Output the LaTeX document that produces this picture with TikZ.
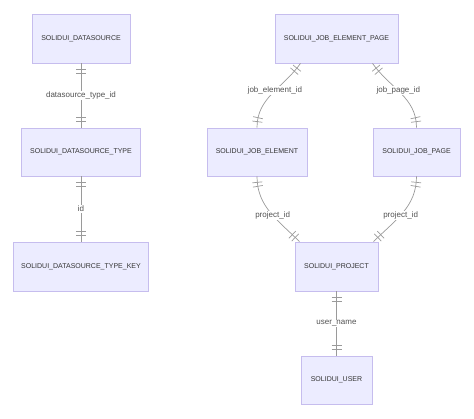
\documentclass[tikz,border=0pt]{standalone}
\usepackage{fontspec}
\setmainfont{Liberation Sans}
\usetikzlibrary{decorations.markings}
\definecolor{entfill}{HTML}{ECECFF}
\definecolor{entline}{HTML}{C6BDEE}
\definecolor{relline}{HTML}{9A9A9A}
\definecolor{txt}{HTML}{333333}

\tikzset{
	entity/.style={rectangle, draw=entline, fill=entfill, line width=0.7pt,
		text=txt, font=\fontsize{7}{8}\selectfont, inner sep=0pt},
	bar/.style={draw=relline, line width=0.7pt},
	% exactly one at both ends
	rel/.style={draw=relline, line width=0.7pt,
		decoration={markings,
			mark=at position 6pt with {\draw[bar] (0,-5pt) -- (0,5pt);},
			mark=at position 10pt with {\draw[bar] (0,-5pt) -- (0,5pt);},
			mark=at position -6pt with {\draw[bar] (0,-5pt) -- (0,5pt);},
			mark=at position -10pt with {\draw[bar] (0,-5pt) -- (0,5pt);}},
		postaction={decorate}},
	rellabel/.style={fill=white, text=txt!85, font=\fontsize{8}{9}\selectfont, inner sep=1pt}
}

\begin{document}
\begin{tikzpicture}[x=1pt, y=-1pt]
	\useasboundingbox (0,0) rectangle (474,419);

	\node[entity, minimum width=98, minimum height=49] (ds) at (81,38.5) {SOLIDUI\_DATASOURCE};
	\node[entity, minimum width=119, minimum height=48] (dst) at (81,152) {SOLIDUI\_DATASOURCE\_TYPE};
	\node[entity, minimum width=135, minimum height=49] (dstk) at (81,266.5) {SOLIDUI\_DATASOURCE\_TYPE\_KEY};

	\node[entity, minimum width=123, minimum height=49] (jep) at (336.5,38.5) {SOLIDUI\_JOB\_ELEMENT\_PAGE};
	\node[entity, minimum width=100, minimum height=48] (je) at (257,152) {SOLIDUI\_JOB\_ELEMENT};
	\node[entity, minimum width=87, minimum height=48] (jp) at (416.5,152) {SOLIDUI\_JOB\_PAGE};
	\node[entity, minimum width=83, minimum height=49] (proj) at (336.5,266.5) {SOLIDUI\_PROJECT};
	\node[entity, minimum width=71, minimum height=48] (user) at (336.5,380) {SOLIDUI\_USER};

	\draw[rel] (ds) -- node[rellabel] {datasource\_type\_id} (dst);
	\draw[rel] (dst) -- node[rellabel] {id} (dstk);

	\draw[rel] ([xshift=-36pt]jep.south) to[out=-125, in=90] node[rellabel, pos=0.45] {job\_element\_id} (je.north);
	\draw[rel] ([xshift=36pt]jep.south) to[out=-55, in=90] node[rellabel, pos=0.45] {job\_page\_id} (jp.north);
	\draw[rel] (je.south) to[out=-90, in=135] node[rellabel, pos=0.55] {project\_id} ([xshift=-37pt]proj.north);
	\draw[rel] (jp.south) to[out=-90, in=45] node[rellabel, pos=0.55] {project\_id} ([xshift=37pt]proj.north);

	\draw[rel] (proj) -- node[rellabel] {user\_name} (user);
\end{tikzpicture}
\end{document}
